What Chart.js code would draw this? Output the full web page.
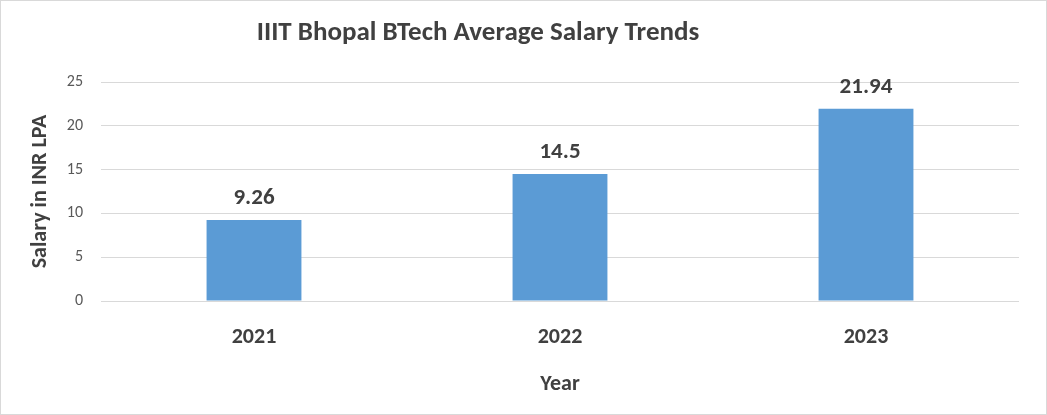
<!DOCTYPE html>
<html><head><meta charset="utf-8">
<script src="https://cdn.jsdelivr.net/npm/chart.js@4"></script>
<style>html,body{margin:0;padding:0;background:#fff}#w{width:1047px;height:415px;position:relative;box-sizing:border-box;border:1px solid #d9d9d9}</style>
</head><body><div id="w"><canvas id="c"></canvas></div>
<script>
const categories = ["2021", "2022", "2023"];
const salaries = [9.26, 14.5, 21.94];
const valueLabels = ["9.26", "14.5", "21.94"];
const yTicks = [0, 5, 10, 15, 20, 25];
const chartTitle = "IIIT Bhopal BTech Average Salary Trends";

const font = "Carlito, Lato, 'Open Sans', 'Liberation Sans', sans-serif";
const overlay = {
  id: 'overlay',
  afterDatasetsDraw(chart) {
    const ctx = chart.ctx;
    ctx.save();
    ctx.fillStyle = '#404040';
    ctx.textAlign = 'center';
    ctx.textBaseline = 'middle';
    ctx.font = "bold 27px " + font;
    ctx.fillText(chartTitle, 477, 32);
    ctx.font = "bold 23px " + font;
    chart.getDatasetMeta(0).data.forEach((b, i) => {
      ctx.fillText(valueLabels[i], b.x, b.y - 22);
    });
    ctx.restore();
  }
};
new Chart(document.getElementById('c'), {
  type: 'bar',
  data: { labels: categories, datasets: [{ data: salaries, backgroundColor: '#5b9bd5', barPercentage: 0.62, categoryPercentage: 0.5 }] },
  options: {
    responsive: true, maintainAspectRatio: false, animation: false,
    layout: { padding: { top: 81, right: 27, left: 22, bottom: 12 } },
    plugins: { legend: { display: false }, tooltip: { enabled: false } },
    scales: {
      x: {
        grid: { display: false }, border: { display: false },
        ticks: { color: '#404040', font: { family: font, size: 22, weight: 'bold' }, padding: 15 },
        title: { display: true, text: 'Year', color: '#404040', font: { family: font, size: 22, weight: 'bold' }, padding: { top: 17 } },
        afterFit(s) { s.height = 101; }
      },
      y: {
        min: 0, max: 25,
        afterBuildTicks(s) { s.ticks = yTicks.map(v => ({ value: v })); },
        grid: { color: '#d9d9d9', drawTicks: false }, border: { display: false },
        ticks: { color: '#595959', font: { family: font, size: 16 }, padding: 18 },
        title: { display: true, text: 'Salary in INR LPA', color: '#404040', font: { family: font, size: 22, weight: 'bold' } },
        afterFit(s) { s.width = 78; }
      }
    }
  },
  plugins: [overlay]
});
</script></body></html>
